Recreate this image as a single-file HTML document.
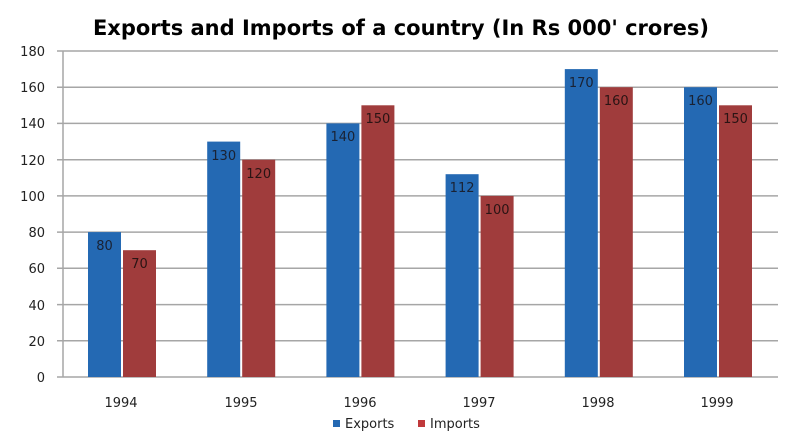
<!DOCTYPE html>
<html><head><meta charset="utf-8"><style>
html,body{margin:0;padding:0;background:#fff;}
svg{display:block;font-family:"DejaVu Sans","Liberation Sans",sans-serif;}
</style></head><body>
<svg width="802" height="436" xmlns="http://www.w3.org/2000/svg">
<text x="401" y="35" text-anchor="middle" font-size="21" font-weight="bold" fill="#000">Exports and Imports of a country (In Rs 000' crores)</text>
<g stroke="#a6a6a6" stroke-width="1.5">
<line x1="57" y1="51" x2="778" y2="51"/>
<line x1="57" y1="87.2" x2="778" y2="87.2"/>
<line x1="57" y1="123.4" x2="778" y2="123.4"/>
<line x1="57" y1="159.7" x2="778" y2="159.7"/>
<line x1="57" y1="195.9" x2="778" y2="195.9"/>
<line x1="57" y1="232.1" x2="778" y2="232.1"/>
<line x1="57" y1="268.3" x2="778" y2="268.3"/>
<line x1="57" y1="304.6" x2="778" y2="304.6"/>
<line x1="57" y1="340.8" x2="778" y2="340.8"/>
<line x1="57" y1="377" x2="778" y2="377"/>
<line x1="63" y1="51" x2="63" y2="377"/>
</g>
<g font-size="13" fill="#222" text-anchor="end">
<text x="45" y="56">180</text><text x="45" y="92">160</text><text x="45" y="128">140</text>
<text x="45" y="165">120</text><text x="45" y="201">100</text><text x="45" y="237">80</text>
<text x="45" y="273">60</text><text x="45" y="310">40</text><text x="45" y="346">20</text>
<text x="45" y="382">0</text>
</g>
<g fill="#2469b3">
<rect x="88" y="232.1" width="33" height="144.9"/>
<rect x="207.2" y="141.6" width="33" height="235.4"/>
<rect x="326.4" y="123.4" width="33" height="253.6"/>
<rect x="445.6" y="174.2" width="33" height="202.8"/>
<rect x="564.8" y="69.1" width="33" height="307.9"/>
<rect x="684" y="87.2" width="33" height="289.8"/>
</g>
<g fill="#a03c3c">
<rect x="123" y="250.2" width="33" height="126.8"/>
<rect x="242.2" y="159.7" width="33" height="217.3"/>
<rect x="361.4" y="105.3" width="33" height="271.7"/>
<rect x="480.6" y="195.9" width="33" height="181.1"/>
<rect x="599.8" y="87.2" width="33" height="289.8"/>
<rect x="719" y="105.3" width="33" height="271.7"/>
</g>
<g font-size="13" fill="#1a2233" text-anchor="middle">
<text x="104.5" y="250">80</text>
<text x="223.7" y="160">130</text>
<text x="342.9" y="141">140</text>
<text x="462.1" y="192">112</text>
<text x="581.3" y="87">170</text>
<text x="700.5" y="105">160</text>
</g>
<g font-size="13" fill="#2a1414" text-anchor="middle">
<text x="139.5" y="268">70</text>
<text x="258.7" y="178">120</text>
<text x="377.9" y="123">150</text>
<text x="497.1" y="214">100</text>
<text x="616.3" y="105">160</text>
<text x="735.5" y="123">150</text>
</g>
<g font-size="13" fill="#222" text-anchor="middle">
<text x="121" y="407">1994</text><text x="241" y="407">1995</text><text x="360" y="407">1996</text>
<text x="479" y="407">1997</text><text x="598" y="407">1998</text><text x="717" y="407">1999</text>
</g>
<rect x="333" y="420" width="7" height="7" fill="#2469b3"/>
<text x="345" y="428" font-size="13" fill="#222">Exports</text>
<rect x="418" y="420" width="7" height="7" fill="#c0393b"/>
<text x="430" y="428" font-size="13" fill="#222">Imports</text>
</svg>
</body></html>
